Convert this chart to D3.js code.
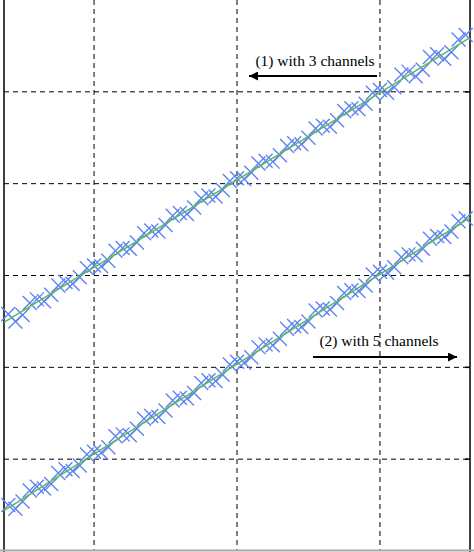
<!DOCTYPE html>
<html><head><meta charset="utf-8">
<script src="https://cdn.jsdelivr.net/npm/d3@7"></script>
<style>body{margin:0;background:#fff}</style></head>
<body><div id="chart"></div>
<script>
var xsA = d3.range(33).map(function(k) { return -0.6 + 0.1 * k; });
var xsB = d3.range(32).map(function(k) { return -0.55 + 0.1 * k; });
var ch3A = [1.58,1.57,1.74,1.79,1.93,1.98,2.11,2.16,2.30,2.36,2.49,2.55,2.68,2.74,2.87,2.93,3.06,3.12,3.25,3.31,3.44,3.50,3.63,3.69,3.82,3.87,4.02,4.05,4.22,4.24,4.41,4.43,4.62];
var ch3B = [1.50,1.70,1.72,1.89,1.91,2.08,2.10,2.27,2.29,2.46,2.48,2.65,2.67,2.84,2.86,3.03,3.05,3.22,3.24,3.41,3.43,3.60,3.62,3.79,3.81,3.99,3.99,4.19,4.17,4.38,4.36,4.57];
var ch5A = [-0.50,-0.46,-0.30,-0.27,-0.11,-0.07,0.08,0.13,0.27,0.33,0.47,0.53,0.67,0.72,0.86,0.92,1.06,1.11,1.25,1.31,1.45,1.50,1.64,1.70,1.84,1.89,2.04,2.09,2.23,2.29,2.43,2.48,2.62];
var ch5B = [-0.54,-0.34,-0.32,-0.15,-0.13,0.05,0.07,0.25,0.26,0.44,0.46,0.64,0.66,0.83,0.85,1.03,1.05,1.22,1.24,1.42,1.44,1.62,1.63,1.81,1.83,2.01,2.03,2.20,2.22,2.40,2.42,2.59];
var fit3 = [[-0.63, 1.49], [2.63, 4.59]];
var fit5 = [[-0.63, -0.56], [2.63, 2.63]];
var xTicks = [0, 1, 2];
var yTicks = [0, 1, 2, 3, 4];

var width = 474, height = 552;
var x = d3.scaleLinear().domain([-0.63, 2.63]).range([4, 470]);
var y = d3.scaleLinear().domain([-1, 5]).range([551, 0]);

var svg = d3.select('#chart').append('svg')
    .attr('width', width).attr('height', height);

var grid = svg.append('g').attr('stroke', '#000').attr('stroke-dasharray', '5,4').attr('stroke-width', 1);
xTicks.forEach(function(t) {
  grid.append('line').attr('x1', x(t)).attr('x2', x(t)).attr('y1', 0).attr('y2', 550);
});
yTicks.forEach(function(t) {
  grid.append('line').attr('x1', 4).attr('x2', 470).attr('y1', y(t)).attr('y2', y(t));
});

svg.append('line').attr('x1', 4).attr('x2', 4).attr('y1', 0).attr('y2', 552).attr('stroke', '#000').attr('stroke-width', 1.5);
svg.append('line').attr('x1', 470).attr('x2', 470).attr('y1', 0).attr('y2', 552).attr('stroke', '#000').attr('stroke-width', 1.5);
svg.append('line').attr('x1', 0).attr('x2', 474).attr('y1', 550.5).attr('y2', 550.5).attr('stroke', '#aaa').attr('stroke-width', 2);
yTicks.forEach(function(t) {
  svg.append('line').attr('x1', 465).attr('x2', 470).attr('y1', y(t)).attr('y2', y(t)).attr('stroke', '#000').attr('stroke-width', 1.5);
});

function marks(xs, vals) {
  var g = svg.append('g').attr('stroke', '#5f84f2').attr('stroke-width', 1.4);
  vals.forEach(function(v, i) {
    var cx = x(xs[i]), cy = y(v), s = 7;
    g.append('path').attr('d', 'M' + (cx - s) + ',' + (cy - s) + 'L' + (cx + s) + ',' + (cy + s) +
      'M' + (cx - s) + ',' + (cy + s) + 'L' + (cx + s) + ',' + (cy - s));
  });
}
marks(xsA, ch3A); marks(xsB, ch3B);
marks(xsA, ch5A); marks(xsB, ch5B);

var line = d3.line().x(function(d) { return x(d[0]); }).y(function(d) { return y(d[1]); });
[fit3, fit5].forEach(function(f) {
  svg.append('path').attr('d', line(f)).attr('stroke', '#5cb85c').attr('stroke-width', 1.5).attr('fill', 'none');
});

svg.append('defs').append('marker').attr('id', 'ah').attr('viewBox', '0 0 10 10')
  .attr('refX', 10).attr('refY', 5).attr('markerWidth', 12).attr('markerHeight', 9)
  .attr('markerUnits', 'userSpaceOnUse').attr('orient', 'auto')
  .append('path').attr('d', 'M0,0L10,5L0,10z').attr('fill', '#000');

svg.append('text').attr('x', 315).attr('y', 66).attr('text-anchor', 'middle')
  .attr('font-family', 'Liberation Serif').attr('font-size', 15.5).text('(1) with 3 channels');
svg.append('line').attr('x1', 377).attr('x2', 249).attr('y1', 76).attr('y2', 76)
  .attr('stroke', '#000').attr('stroke-width', 2).attr('marker-end', 'url(#ah)');
svg.append('text').attr('x', 379).attr('y', 346).attr('text-anchor', 'middle')
  .attr('font-family', 'Liberation Serif').attr('font-size', 15.5).text('(2) with 5 channels');
svg.append('line').attr('x1', 313).attr('x2', 457).attr('y1', 357).attr('y2', 357)
  .attr('stroke', '#000').attr('stroke-width', 2).attr('marker-end', 'url(#ah)');
</script></body></html>
